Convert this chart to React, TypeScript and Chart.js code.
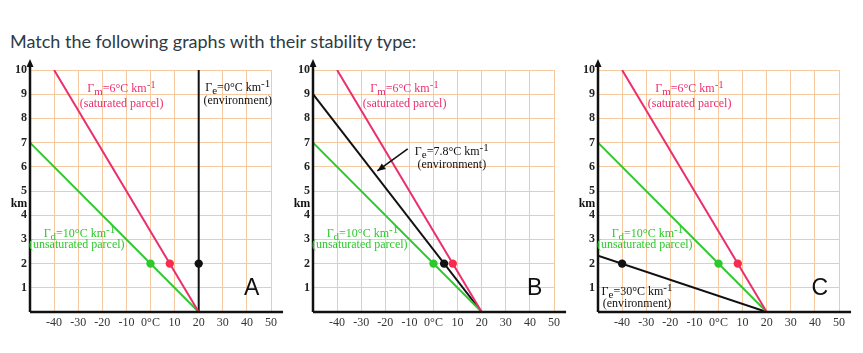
import React, { useEffect, useRef } from 'react';
import { Chart, registerables } from 'chart.js';

Chart.register(...registerables);

// ---------- data ----------
const tempTicks = [-50, -40, -30, -20, -10, 0, 10, 20, 30, 40, 50];
const tempTickLabels = ['', '-40', '-30', '-20', '-10', '0°C', '10', '20', '30', '40', '50'];
const heightTicks = [0, 1, 2, 3, 4, 5, 6, 7, 8, 9, 10];
const heightTickLabels = ['', '1', '2', '3', '4', '5', '6', '7', '8', '9', '10'];

const moistTemp = [-40, 20];
const moistHeight = [10, 0];
const dryTemp = [-50, 20];
const dryHeight = [7, 0];

const envTempA = [20, 20];
const envHeightA = [10, 0];
const envTempB = [-50, 20];
const envHeightB = [9, 0];
const envTempC = [-50, 20];
const envHeightC = [2.33, 0];

const parcelLevel = 2;
const dryParcelTemp = 0;
const moistParcelTemp = 8;
const envParcelTemps = [20, 4.4, -40];

const panelLetters = ['A', 'B', 'C'];
const envRates = ['0', '7.8', '30'];

// ---------- styles ----------
const PINK = '#ea2f6e';
const GREEN = '#2ec82e';
const RED = '#ff2a3c';
const BLACK = '#111111';
const GRID = '#f6c9a0';
const SERIF = '"Liberation Serif", "Times New Roman", serif';

type Seg = { t: string; sub?: boolean; sup?: boolean };

function drawRich(ctx: CanvasRenderingContext2D, segs: Seg[], cx: number, cy: number, size: number, color: string) {
  const main = `${size}px ${SERIF}`;
  const small = `${Math.round(size * 0.9)}px ${SERIF}`;
  let w = 0;
  segs.forEach((s) => {
    ctx.font = s.sub || s.sup ? small : main;
    w += ctx.measureText(s.t).width;
  });
  let x = cx - w / 2;
  ctx.textAlign = 'left';
  ctx.textBaseline = 'middle';
  ctx.fillStyle = color;
  segs.forEach((s) => {
    ctx.font = s.sub || s.sup ? small : main;
    const dy = s.sub ? size * 0.28 : s.sup ? -size * 0.3 : 0;
    ctx.fillText(s.t, x, cy + dy);
    x += ctx.measureText(s.t).width;
  });
}

const gammaLabel = (sub: string, rate: string): Seg[] => [
  { t: 'Γ' },
  { t: sub, sub: true },
  { t: `=${rate}°C km` },
  { t: '-1', sup: true },
];

// label anchor positions (data coords) per panel
const envLabelPos = [
  { x: 36.2, y1: 9.27, y2: 8.74 },
  { x: 7.6, y1: 6.62, y2: 6.1 },
  { x: -33.8, y1: 0.84, y2: 0.32 },
];

const overlayPlugin = {
  id: 'overlay',
  afterDatasetsDraw(chart: any, _args: any, opts: any) {
    const { ctx, scales } = chart;
    const xs = scales.x;
    const ys = scales.y;
    const px = (v: number) => xs.getPixelForValue(v);
    const py = (v: number) => ys.getPixelForValue(v);
    const idx: number = opts.panel;
    ctx.save();

    // axes
    ctx.strokeStyle = BLACK;
    ctx.lineWidth = 2.5;
    ctx.beginPath();
    ctx.moveTo(px(-50), py(0));
    ctx.lineTo(px(55), py(0));
    ctx.stroke();
    ctx.beginPath();
    ctx.moveTo(px(-50), py(0));
    ctx.lineTo(px(-50), py(10.2));
    ctx.stroke();
    // arrow head on y axis
    const ax = px(-50);
    const ay = py(10.45);
    ctx.fillStyle = BLACK;
    ctx.beginPath();
    ctx.moveTo(ax, ay);
    ctx.lineTo(ax - 3.5, ay + 8);
    ctx.lineTo(ax + 3.5, ay + 8);
    ctx.closePath();
    ctx.fill();

    // km label
    ctx.font = `bold 12px ${SERIF}`;
    ctx.textAlign = 'center';
    ctx.textBaseline = 'middle';
    ctx.fillStyle = BLACK;
    ctx.fillText('km', xs.left - 11, py(4.45));

    // moist label
    drawRich(ctx, gammaLabel('m', '6'), px(-12), py(9.24), 12, PINK);
    ctx.font = `12px ${SERIF}`;
    ctx.textAlign = 'center';
    ctx.fillStyle = PINK;
    ctx.fillText('(saturated parcel)', px(-12), py(8.62));

    // dry label
    drawRich(ctx, gammaLabel('d', '10'), px(-29.5), py(3.25), 12, GREEN);
    ctx.font = `12px ${SERIF}`;
    ctx.textAlign = 'center';
    ctx.fillStyle = GREEN;
    ctx.fillText('(unsaturated parcel)', px(-30.6), py(2.77));

    // environment label
    const ep = envLabelPos[idx];
    drawRich(ctx, gammaLabel('e', envRates[idx]), px(ep.x), py(ep.y1), 12, BLACK);
    ctx.font = `12px ${SERIF}`;
    ctx.textAlign = 'center';
    ctx.fillStyle = BLACK;
    ctx.fillText('(environment)', px(ep.x), py(ep.y2));

    // pointer arrow in panel B
    if (idx === 1) {
      const x0 = px(-10.7), y0 = py(6.74), x1 = px(-23.3), y1 = py(5.83);
      ctx.strokeStyle = BLACK;
      ctx.lineWidth = 1.6;
      ctx.beginPath();
      ctx.moveTo(x0, y0);
      ctx.lineTo(x1, y1);
      ctx.stroke();
      const ang = Math.atan2(y1 - y0, x1 - x0);
      const L = 8, W = 3.5;
      ctx.beginPath();
      ctx.moveTo(x1, y1);
      ctx.lineTo(x1 - L * Math.cos(ang) + W * Math.sin(ang), y1 - L * Math.sin(ang) - W * Math.cos(ang));
      ctx.lineTo(x1 - L * Math.cos(ang) - W * Math.sin(ang), y1 - L * Math.sin(ang) + W * Math.cos(ang));
      ctx.closePath();
      ctx.fill();
    }

    // panel letter
    ctx.font = `23px "Liberation Sans", Arial, sans-serif`;
    ctx.textAlign = 'center';
    ctx.textBaseline = 'middle';
    ctx.fillStyle = BLACK;
    ctx.fillText(panelLetters[idx], px(42), py(0.98));

    ctx.restore();
  },
};

const toPts = (xs: number[], ys: number[]) => xs.map((x, i) => ({ x, y: ys[i] }));

function Panel({ idx, envTemp, envHeight, left }: { idx: number; envTemp: number[]; envHeight: number[]; left: number }) {
  const ref = useRef<HTMLCanvasElement>(null);
  useEffect(() => {
    if (!ref.current) return;
    const dot = (x: number, color: string) => ({
      data: [{ x, y: parcelLevel }],
      showLine: false,
      pointRadius: 4.2,
      pointBorderWidth: 0,
      pointBackgroundColor: color,
      backgroundColor: color,
      borderColor: color,
    });
    const line = (pts: { x: number; y: number }[], color: string) => ({
      data: pts,
      showLine: true,
      borderColor: color,
      borderWidth: 2,
      pointRadius: 0,
      fill: false,
    });
    const chart = new Chart(ref.current, {
      type: 'scatter',
      data: {
        datasets: [
          line(toPts(moistTemp, moistHeight), PINK),
          line(toPts(dryTemp, dryHeight), GREEN),
          line(toPts(envTemp, envHeight), BLACK),
          dot(dryParcelTemp, GREEN),
          dot(moistParcelTemp, RED),
          dot(envParcelTemps[idx], BLACK),
        ] as any,
      },
      options: {
        animation: false,
        responsive: false,
        maintainAspectRatio: false,
        layout: { padding: { top: 20, right: 19, left: 0, bottom: 0 } },
        plugins: {
          legend: { display: false },
          tooltip: { enabled: false },
          overlay: { panel: idx },
        } as any,
        scales: {
          x: {
            type: 'linear',
            min: -50,
            max: 50,
            afterBuildTicks: (s: any) => {
              s.ticks = tempTicks.map((v) => ({ value: v }));
            },
            afterFit: (s: any) => {
              s.height = 38;
            },
            border: { display: false },
            grid: {
              drawTicks: false,
              lineWidth: 1,
              color: (c: any) => (c.tick && c.tick.value === -50 ? 'rgba(0,0,0,0)' : GRID),
            },
            ticks: {
              autoSkip: false,
              maxRotation: 0,
              padding: 4,
              color: '#333',
              font: { family: SERIF, size: 12 },
              callback: (v: any) => tempTickLabels[tempTicks.indexOf(Number(v))] ?? '',
            },
          },
          y: {
            type: 'linear',
            min: 0,
            max: 10,
            afterBuildTicks: (s: any) => {
              s.ticks = heightTicks.map((v) => ({ value: v }));
            },
            afterFit: (s: any) => {
              s.width = 30;
            },
            border: { display: false },
            grid: {
              drawTicks: false,
              lineWidth: 1,
              color: (c: any) => (c.tick && c.tick.value === 0 ? 'rgba(0,0,0,0)' : GRID),
            },
            ticks: {
              autoSkip: false,
              padding: 3,
              color: '#222',
              font: { family: SERIF, size: 12, weight: 'bold' },
              callback: (v: any) => heightTickLabels[heightTicks.indexOf(Number(v))] ?? '',
            },
          },
        },
      } as any,
      plugins: [overlayPlugin as any],
    });
    return () => chart.destroy();
  }, [idx, envTemp, envHeight]);
  return (
    <canvas
      ref={ref}
      width={290}
      height={300}
      style={{ position: 'absolute', left, top: 50, width: 290, height: 300 }}
    />
  );
}

export default function App() {
  return (
    <div style={{ position: 'absolute', left: 0, top: 0, width: 863, height: 353, background: '#fff', overflow: 'hidden' }}>
      <div
        style={{
          position: 'absolute',
          left: 10,
          top: 30,
          fontFamily: 'Lato, "Open Sans", sans-serif',
          fontSize: 18,
          lineHeight: '22px',
          color: '#2d3b45',
          whiteSpace: 'nowrap',
        }}
      >
        Match the following graphs with their stability type:
      </div>
      <Panel idx={0} envTemp={envTempA} envHeight={envHeightA} left={0} />
      <Panel idx={1} envTemp={envTempB} envHeight={envHeightB} left={283} />
      <Panel idx={2} envTemp={envTempC} envHeight={envHeightC} left={568} />
    </div>
  );
}
